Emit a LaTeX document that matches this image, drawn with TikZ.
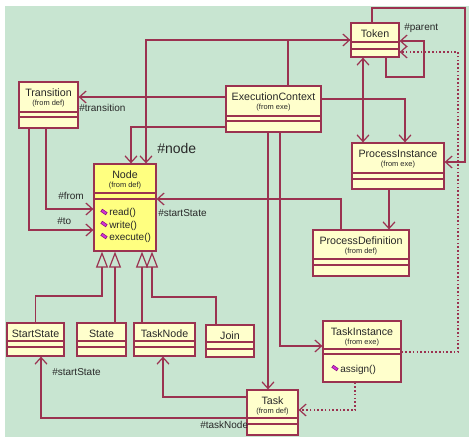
\documentclass[tikz,border=0pt]{standalone}
\usepackage{fontspec}
\setmainfont{Liberation Sans}
\usetikzlibrary{arrows.meta}
\definecolor{bgc}{RGB}{200,229,209}
\definecolor{boxf}{RGB}{255,255,204}
\definecolor{nodef}{RGB}{255,255,128}
\definecolor{ln}{RGB}{155,50,80}
\definecolor{icof}{RGB}{210,50,210}
\definecolor{icod}{RGB}{120,0,120}
\definecolor{txt}{RGB}{40,40,40}
\tikzset{
  box/.style={draw=ln, line width=0.9pt, inner sep=0pt, rectangle},
  comp/.style={draw=ln, line width=0.9pt},
  ttl/.style={font=\fontsize{8}{9}\selectfont, inner sep=0pt, text=txt},
  subl/.style={font=\fontsize{5.6}{6}\selectfont, inner sep=0pt, text=txt},
  meth/.style={font=\fontsize{7.5}{8}\selectfont, inner sep=0pt, anchor=west, text=txt},
  assoc/.style={draw=ln, line width=0.9pt, -{Straight Barb[length=5pt,width=9pt]}},
  biassoc/.style={draw=ln, line width=0.9pt, {Straight Barb[length=5pt,width=9pt]}-{Straight Barb[length=5pt,width=9pt]}},
  dep/.style={assoc, dash pattern=on 1.2pt off 1.6pt},
  gen/.style={draw=ln, line width=0.9pt, -{Triangle[open, length=12pt, width=9pt]}},
  lbl/.style={font=\fontsize{7.5}{8}\selectfont, inner sep=0pt, anchor=west, text=txt},
  icon/.style={fill=icof, draw=icod, line width=0.3pt},
}
\newcommand{\boxfill}{boxf}
\newcommand{\umlclass}[9]{%
  \node[box, fill=\boxfill, minimum width={(#4-#2)*0.75pt}, minimum height={(#5-#3)*0.75pt}] (#1) at ({(#2+#4)/2},{(#3+#5)/2}) {};
  \draw[comp] (#2,#6) -- (#4,#6) (#2,#7) -- (#4,#7);
  \node[ttl] at ({(#2+#4)/2},#3+10.5) {#8};
  \node[subl] at ({(#2+#4)/2},#3+22) {#9};
}
\newcommand{\methicon}[2]{%
  \draw[icon, rotate around={-35:(#1,#2)}] (#1-3,#2-1.4) rectangle (#1+3,#2+1.4);
}
\begin{document}
\begin{tikzpicture}[x=0.75pt, y=-0.75pt]
\useasboundingbox (0,0) rectangle (474,443);
\fill[white] (0,0) rectangle (474,443);
\fill[bgc] (5,6) rectangle (469,437);

% classes
\umlclass{Transition}{19}{82}{78}{128}{112}{117}{Transition}{(from def)}
\umlclass{EC}{226}{86}{321}{132}{116}{121}{ExecutionContext}{(from exe)}
\umlclass{Token}{351}{23}{399}{57}{42}{49}{Token}{}
\umlclass{PI}{352}{143}{444}{189}{173}{179}{ProcessInstance}{(from exe)}
\umlclass{PD}{313}{230}{409}{276}{259}{265}{ProcessDefinition}{(from def)}
\renewcommand{\boxfill}{nodef}
\umlclass{Node}{94}{164}{156}{251}{193}{199}{Node}{(from def)}
\renewcommand{\boxfill}{boxf}
\umlclass{StartState}{7}{323}{64}{356}{341}{347}{StartState}{}
\umlclass{State}{77}{323}{126}{356}{341}{347}{State}{}
\umlclass{TaskNode}{134}{323}{195}{356}{341}{347}{TaskNode}{}
\umlclass{Join}{206}{325}{254}{357}{342}{349}{Join}{}
\umlclass{TI}{323}{321}{401}{382}{349}{354}{TaskInstance}{(from exe)}
\umlclass{Task}{247}{390}{298}{435}{418}{424}{Task}{(from def)}

% methods
\methicon{104}{212}
\node[meth] (mread) at (109,213) {read()};
\methicon{104}{224}
\node[meth] (mwrite) at (109,226) {write()};
\methicon{104}{236}
\node[meth] (mexec) at (109,238) {execute()};
\methicon{335}{368}
\node[meth] (massign) at (340,370) {assign()};

% associations
\draw[assoc] (EC.west |- 0,97) -- (Transition.east |- 0,97);
\draw[assoc] (288,0 |- EC.north) |- (Token.west);
\draw[assoc] (Token.west) -| (146,0 |- Node.north);
\draw[assoc] (EC.west |- 0,127) -| (131,0 |- Node.north);
\draw[assoc] (EC.east |- 0,99) -| (405,0 |- PI.north);
\draw[biassoc] (363,0 |- Token.south) -- (363,0 |- PI.north);
\draw[assoc] (386,0 |- Token.south) |- (424,77) |- (Token.east |- 0,41);
\draw[assoc] (372,0 |- Token.north) |- (465,8) |- (PI.east |- 0,162);
\draw[dep] (TI.east |- 0,352) -| (458,52) -- (Token.east |- 0,52);
\draw[assoc] (389,0 |- PI.south) -- (389,0 |- PD.north);
\draw[assoc] (341,0 |- PD.north) |- (Node.east |- 0,199);
\draw[assoc] (46,0 |- Transition.south) |- (Node.west |- 0,209);
\draw[assoc] (29,0 |- Transition.south) |- (Node.west |- 0,230);
\draw[assoc] (268,0 |- EC.south) -- (268,0 |- Task.north);
\draw[assoc] (280,0 |- EC.south) |- (TI.west |- 0,346);
\draw[assoc] (Task.west |- 0,397) -| (163,0 |- TaskNode.south);
\draw[assoc] (Task.west |- 0,418) -| (41,0 |- StartState.south);
\draw[dep] (355,0 |- TI.south) |- (Task.east |- 0,410);

% generalizations
\draw[gen] (StartState.north) |- (102,296) -- (102,0 |- Node.south);
\draw[gen] (115,0 |- State.north) -- (115,0 |- Node.south);
\draw[gen] (142,0 |- TaskNode.north) -- (142,0 |- Node.south);
\draw[gen] (216,0 |- Join.north) |- (152,297) -- (152,0 |- Node.south);

% labels
\node[lbl] (ltrans) at (79,108) {\#transition};
\node[lbl, font=\fontsize{10.5}{12}\selectfont] (lnode) at (157,148) {\#node};
\node[lbl] (lparent) at (404,28) {\#parent};
\node[lbl] (lss1) at (158,213) {\#startState};
\node[lbl] (lfrom) at (58,196) {\#from};
\node[lbl] (lto) at (57,221) {\#to};
\node[lbl] (lss2) at (52,372) {\#startState};
\node[lbl] (ltn) at (200,425) {\#taskNode};
\end{tikzpicture}
\end{document}
